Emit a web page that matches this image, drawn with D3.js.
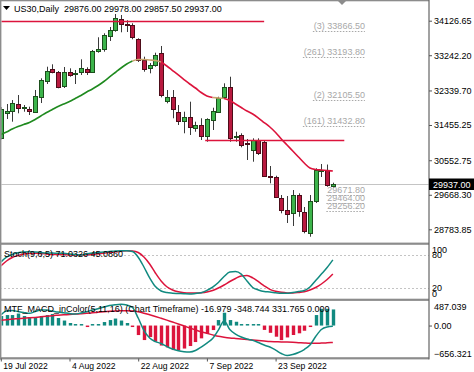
<!DOCTYPE html>
<html>
<head>
<meta charset="utf-8">
<script src="https://cdn.jsdelivr.net/npm/d3@7"></script>
<style>
  html, body { margin: 0; padding: 0; background: #fff; }
  svg { display: block; font-family: "Liberation Sans", Arial, sans-serif; }
</style>
</head>
<body>
<svg id="chart" width="474" height="372"></svg>
<script>
// ---- data ----
const dates = [
  "2022-07-19","2022-07-20","2022-07-21","2022-07-22","2022-07-25","2022-07-26","2022-07-27","2022-07-28","2022-07-29",
  "2022-08-01","2022-08-02","2022-08-03","2022-08-04","2022-08-05","2022-08-08","2022-08-09","2022-08-10","2022-08-11",
  "2022-08-12","2022-08-15","2022-08-16","2022-08-17","2022-08-18","2022-08-19","2022-08-22","2022-08-23","2022-08-24",
  "2022-08-25","2022-08-26","2022-08-29","2022-08-30","2022-08-31","2022-09-01","2022-09-02","2022-09-05","2022-09-06",
  "2022-09-07","2022-09-08","2022-09-09","2022-09-12","2022-09-13","2022-09-14","2022-09-15","2022-09-16","2022-09-19",
  "2022-09-20","2022-09-21","2022-09-22","2022-09-23","2022-09-26","2022-09-27","2022-09-28","2022-09-29","2022-09-30",
  "2022-10-03","2022-10-04","2022-10-05","2022-10-06","2022-10-07"
]
const open  = [31122,31762,31814,31993,31903,31865,31796,32180,32590,32882,32813,32454,32820,32774,32805,32882,32813,33333,33394,33735,
               33871,34163,34034,34017,33650,33120,32907,32992,33292,32052,32164,31796,31557,31652,31370,31455,31165,31583,31796,32180,
               32436,31165,31199,30994,30815,31071,31027,30141,30131,29577,29290,29193,29662,29234,28714,29496,30290,30302,29876]
const high  = [31916,31993,32095,32223,31967,31924,32352,32651,32948,33010,32838,32941,32907,32864,33138,32933,33377,33702,33804,33965,
               34298,34273,34137,34060,33676,33205,33043,33307,33479,32351,32351,31967,31796,32052,31540,31627,31627,31898,32180,32523,
               32692,31283,31242,31097,31114,31114,31071,30405,30156,29662,29636,29790,29706,29355,29662,30346,30456,30443,29978]
const low   = [31084,31609,31540,31755,31796,31711,31788,32018,32505,32779,32395,32403,32692,32505,32736,32736,32795,33307,33333,33607,
               33845,33830,33837,33650,33069,32820,32779,32948,32164,32011,31627,31455,31243,31199,31283,31071,31027,31327,31762,32164,
               31027,31027,30884,30559,30515,30687,30123,29962,29585,29193,28945,28868,29106,28681,28594,29457,30123,29874,29857.5]
const close = [31865,31813,32026,31883,31916,31814,32198,32608,32846,32813,32436,32813,32754,32787,32907,32795,33351,33394,33760,33888,
               34188,34042,34024,33717,33120,32882,32992,33249,32223,32164,31857,31557,31668,31396,31455,31173,31601,31821,32154,32436,
               31140,31181,30942,30956,31071,30745,30149,30123,29611,29265,29188,29662,29265,28753,29521,30302,30310,29918,29937]

// colour-changing moving average and its trend state per segment (u = up, f = flat, d = down)
const maValues = [31212,31276,31352,31417,31468,31519,31596,31686,31775,31852,31929,31993,32057,32134,32211,32300,32377,32467,32569,32685,
                  32800,32915,33018,33094,33133,33133,33120,33107,33069,32966,32851,32736,32620,32505,32403,32287,32198,32159,32147,32134,
                  32083,31993,31903,31814,31737,31634,31519,31404,31263,31096,30943,30789,30635,30481,30354,30315,30302,30290,30277]
const maTrend = "uuuuuuuuuuuuuuuuuuuuuuufffffdddddddddffddddddddddddddddddd".split("")

// horizontal lines drawn on the chart (price, first bar, last bar)
const hLinePrices = [34130, 31071]
const hLineFrom = [-1, 35.7]
const hLineTo = [46, 60]

// level labels
const levelTags = ["(3)", "(261)", "(2)", "(161)", "", "", ""]
const levelPrices = [33866.50, 33193.80, 32105.50, 31432.80, 29671.80, 29464.00, 29256.20]

const priceTicks = [34126.65, 33242.20, 32339.70, 31455.25, 30552.75, 29668.30, 28783.85]
const lastPrice = 29937.00

// Stochastic (9,6,5)
const stochMain = [67,76,81,84,85.5,86,85.5,84.6,83.7,83.7,83,83,82,81,80,82,83.7,84.6,85.5,86.4,
                   87.3,87.9,87.9,86.4,76,58,38,22,14,11,10,9.4,8.8,8.4,9.4,10.8,15,21,29.5,40.5,
                   48.8,49.7,45,32.3,20.4,15.8,13,12.1,10.8,9.7,9.7,11.2,13,14.9,21.3,33.2,45,57,71.0326]
const stochSignal = [59.8,69,75.4,79,81.8,82.7,83,82.7,81.8,80.9,80.9,80.9,80,80,80,80.4,81.3,82.2,83.7,84.6,
                     85.9,86.8,87.7,87.3,84.6,76.3,63.5,47,32.3,21.8,15.8,12.5,10.8,10.3,10.3,10.8,12.1,14.9,19.4,25,
                     31.4,36.9,41.5,42.4,38,31,23.5,17,13.5,11.5,10.5,10.3,11.2,12.7,15.8,20.4,26.8,35,45.0860]
const stochLevels = [80, 20]
const stochTicks = [100, 80, 20, 0]

// MTF_MACD_inColor (5,11,16)
const macdLine = [216,299,309,288,268,251,288,319,319,299,278,264,247,237,258,284,319,346,381,412,
                  428,437,422,371,155,-100,-257,-330,-371,-433,-484,-521,-540,-546,-515,-443,-361,-268,-93,93,
                  -82,-175,-237,-278,-305,-350,-402,-443,-505,-577,-618,-597,-556,-494,-402,-227,-82,-31,-16.979]
const macdSignal = [110,121,133,141,150,158,168,180,193,204,212,220,228,236,244,252,262,273,284,293,
                    300,305,306,301,283,255,222,187,150,112,72,33,-8,-50,-90,-128,-160,-192,-222,-240,
                    -255,-266,-276,-287,-297,-308,-318,-328,-333,-337,-341,-346,-353,-360,-366,-367,-362,-356,-348.744]
const macdHist = [196,216,216,247,196,175,175,196,216,237,155,103,52,31,21,-30,21,31,72,113,
                  144,103,52,-25,-196,-299,-237,-334,-412,-449,-505,-515,-474,-422,-340,-264,-175,-93,113,264,
                  113,78,10,8,6,8,-90,-150,-230,-300,-245,-195,-160,-107,-15,216,345,345,331.765]
const macdTicks = [487.039, 0, -656.321]

const dateTicks = [0, 12, 24, 36, 48]

// ---- layout ----
const axisX = 429
const mainTop = 1, mainBottom = 242.5
const stochTop = 245, stochBottom = 298.5
const macdTop = 301, macdBottom = 357
const fontSize = 9

const colors = {
  up: "#3cb44b", upStroke: "#1c4f1c",
  down: "#b8193f", downStroke: "#4d0c19",
  wick: "#3a3a3a",
  maUp: "#1f8a1f", maFlat: "#c9a46c", maDown: "#dc143c",
  teal: "#118a80", crimson: "#dc143c",
  grid: "#c4c4c4", border: "#8c8c8c", level: "#a8a8a8"
}

const svg = d3.select("#chart")
const parseDate = d3.timeParse("%Y-%m-%d")
const fmtDate = d3.timeFormat("%-d %b %Y")

const xScale = d3.scaleLinear().domain([0, 58]).range([0.8, 332.85])
const yPrice = d3.scaleLinear().domain([28783.85, 34126.65]).range([229.3, 20.7])
const yStoch = d3.scaleLinear().domain([0, 100]).range([298.6, 244.1])
const yMacd = d3.scaleLinear().domain([-656.321, 487.039]).range([357.4, 301.9])

svg.append("rect").attr("width", 474).attr("height", 372).attr("fill", "#fff")

const defs = svg.append("defs")
function clip(id, y0, y1) {
  defs.append("clipPath").attr("id", id)
    .append("rect").attr("x", 1.5).attr("y", y0).attr("width", axisX - 1.5).attr("height", y1 - y0)
  return svg.append("g").attr("clip-path", `url(#${id})`)
}
const mainG = clip("clipMain", mainTop, mainBottom)
const stochG = clip("clipStoch", stochTop, stochBottom)
const macdG = clip("clipMacd", macdTop, macdBottom)

const bars = d3.range(open.length)
const px = i => Math.round(xScale(i))

drawMain()
drawStoch()
drawMacd()
drawFrame()
drawAxes()
drawTexts()

function drawMain() {
  // bid line
  mainG.append("line")
    .attr("x1", 0).attr("x2", axisX)
    .attr("y1", Math.round(yPrice(lastPrice)) + 0.5).attr("y2", Math.round(yPrice(lastPrice)) + 0.5)
    .attr("stroke", colors.grid).attr("stroke-width", 1)

  // level labels with dotted underline
  const anchorX = xScale(63.6)
  levelPrices.forEach((p, k) => {
    const y = yPrice(p)
    const t = mainG.append("text")
      .attr("x", anchorX).attr("y", y - 1.8)
      .attr("text-anchor", "end")
      .attr("font-size", fontSize).attr("fill", colors.level)
      .text((levelTags[k] ? levelTags[k] + " " : "") + p.toFixed(2))
    const w = t.node().getComputedTextLength()
    mainG.append("line")
      .attr("x1", anchorX - w - 1).attr("x2", anchorX)
      .attr("y1", Math.round(y) + 0.5).attr("y2", Math.round(y) + 0.5)
      .attr("stroke", colors.level).attr("stroke-width", 1)
      .attr("stroke-dasharray", "1.5,1.5")
  })

  // candles
  const isUp = i => close[i] >= open[i]
  mainG.append("g").selectAll("line").data(bars).join("line")
    .attr("x1", i => px(i) + 0.5).attr("x2", i => px(i) + 0.5)
    .attr("y1", i => yPrice(high[i])).attr("y2", i => yPrice(low[i]))
    .attr("stroke", colors.wick).attr("stroke-width", 1)

  mainG.append("g").selectAll("rect").data(bars).join("rect")
    .attr("x", i => px(i) - 1.5)
    .attr("width", 4)
    .attr("y", i => Math.round(yPrice(Math.max(open[i], close[i]))) + 0.5)
    .attr("height", i => Math.max(1, Math.round(Math.abs(yPrice(open[i]) - yPrice(close[i])))))
    .attr("fill", i => isUp(i) ? colors.up : colors.down)
    .attr("stroke", i => isUp(i) ? colors.upStroke : colors.downStroke)
    .attr("stroke-width", 1)

  // moving average, split into runs of one trend colour
  const line = d3.line().x(i => xScale(i)).y(i => yPrice(maValues[i])).curve(d3.curveMonotoneX)
  let start = 0
  for (let s = 1; s <= maTrend.length; s++) {
    if (s === maTrend.length || maTrend[s] !== maTrend[start]) {
      const trend = maTrend[start]
      mainG.append("path")
        .attr("d", line(d3.range(start, s + 1)))
        .attr("fill", "none")
        .attr("stroke", trend === "u" ? colors.maUp : trend === "f" ? colors.maFlat : colors.maDown)
        .attr("stroke-width", 1.6)
      start = s
    }
  }

  // horizontal lines
  hLinePrices.forEach((p, k) => {
    mainG.append("line")
      .attr("x1", xScale(hLineFrom[k])).attr("x2", xScale(hLineTo[k]))
      .attr("y1", Math.round(yPrice(p)) + 0.5).attr("y2", Math.round(yPrice(p)) + 0.5)
      .attr("stroke", colors.crimson).attr("stroke-width", 1.4)
  })
}

function drawStoch() {
  stochLevels.forEach(v => {
    stochG.append("line")
      .attr("x1", 0).attr("x2", axisX)
      .attr("y1", Math.round(yStoch(v)) + 0.5).attr("y2", Math.round(yStoch(v)) + 0.5)
      .attr("stroke", colors.grid).attr("stroke-dasharray", "2,2")
  })
  const line = series => d3.line().x(i => xScale(i)).y(i => yStoch(series[i])).curve(d3.curveMonotoneX)(bars)
  stochG.append("path").attr("d", line(stochSignal))
    .attr("fill", "none").attr("stroke", colors.crimson).attr("stroke-width", 1.5)
  stochG.append("path").attr("d", line(stochMain))
    .attr("fill", "none").attr("stroke", colors.teal).attr("stroke-width", 1.5)
}

function drawMacd() {
  const zero = yMacd(0)
  macdG.append("g").selectAll("rect").data(bars).join("rect")
    .attr("x", i => px(i) - 1.2)
    .attr("width", 3.4)
    .attr("y", i => macdHist[i] >= 0 ? Math.min(zero - 1.5, yMacd(macdHist[i])) : zero)
    .attr("height", i => Math.max(1.5, Math.abs(yMacd(macdHist[i]) - zero)))
    .attr("fill", i => macdHist[i] >= 0 ? colors.teal : colors.crimson)

  const line = series => d3.line().x(i => xScale(i)).y(i => yMacd(series[i])).curve(d3.curveMonotoneX)(bars)
  macdG.append("path").attr("d", line(macdSignal))
    .attr("fill", "none").attr("stroke", colors.crimson).attr("stroke-width", 1.5)
  macdG.append("path").attr("d", line(macdLine))
    .attr("fill", "none").attr("stroke", colors.teal).attr("stroke-width", 1.5)
}

function drawFrame() {
  const f = svg.append("g").attr("fill", colors.border)
  f.append("rect").attr("x", 0).attr("y", 0).attr("width", axisX).attr("height", 1.3)
  f.append("rect").attr("x", 0).attr("y", 242.6).attr("width", axisX).attr("height", 2.2)
  f.append("rect").attr("x", 0).attr("y", 298.7).attr("width", axisX).attr("height", 2.2)
  f.append("rect").attr("x", 0).attr("y", 357.2).attr("width", axisX).attr("height", 2.2)
  f.append("rect").attr("x", 0).attr("y", 0).attr("width", 1.4).attr("height", 359.4)
  svg.append("rect").attr("x", axisX - 0.6).attr("y", 0).attr("width", 1.2).attr("height", 359.4).attr("fill", "#666")
  // chart shift marker
  svg.append("path").attr("d", "M338,1 L346,1 L342,5 Z").attr("fill", "#8c8c8c")
}

function styleAxis(g) {
  g.select(".domain").remove()
  g.selectAll(".tick line").attr("stroke", "#555")
  g.selectAll(".tick text").attr("font-size", fontSize).attr("fill", "#000")
    .attr("font-family", '"Liberation Sans", Arial, sans-serif')
}

function drawAxes() {
  svg.append("g").attr("transform", `translate(${axisX},0)`)
    .call(d3.axisRight(yPrice).tickValues(priceTicks).tickFormat(d3.format(".2f")).tickSize(3).tickPadding(2))
    .call(styleAxis)

  // last price box
  const yl = yPrice(lastPrice)
  svg.append("rect").attr("x", axisX).attr("y", Math.round(yl) - 5.5).attr("width", 474 - axisX).attr("height", 11.5)
    .attr("fill", "#000")
  svg.append("text").attr("x", axisX + 4).attr("y", yl + 3.3)
    .attr("font-size", fontSize).attr("fill", "#fff").text(lastPrice.toFixed(2))

  const stochAxis = svg.append("g").attr("transform", `translate(${axisX},0)`)
    .call(d3.axisRight(yStoch).tickValues(stochTicks).tickSize(0).tickPadding(3))
    .call(styleAxis)
  stochAxis.selectAll(".tick text").attr("dy", d => d === 100 ? "0.95em" : d === 0 ? "-0.25em" : "0.32em")

  const macdAxis = svg.append("g").attr("transform", `translate(${axisX},0)`)
    .call(d3.axisRight(yMacd).tickValues(macdTicks)
      .tickFormat(v => v === 0 ? "0.00" : d3.format(".3f")(v)).tickSize(3).tickPadding(2))
    .call(styleAxis)
  macdAxis.selectAll(".tick text").attr("dy", d => d > 0 ? "0.85em" : d < 0 ? "-0.1em" : "0.32em")
  macdAxis.selectAll(".tick line").filter(d => d !== 0).remove()

  svg.append("g").attr("transform", `translate(0,${macdBottom + 1.5})`)
    .call(d3.axisBottom(xScale).tickValues(dateTicks)
      .tickFormat(i => fmtDate(parseDate(dates[i]))).tickSize(3).tickPadding(1))
    .call(styleAxis)
    .call(g => g.selectAll(".tick text").attr("text-anchor", "start").attr("dx", 2).attr("font-size", 8.6))
}

function drawTexts() {
  svg.append("path").attr("d", "M3,6 L10,6 L6.5,10 Z").attr("fill", "#000")
  svg.append("text").attr("x", 14).attr("y", 12).attr("font-size", fontSize).attr("fill", "#000")
    .attr("xml:space", "preserve")
    .text(`US30,Daily  ${open[58].toFixed(2)} ${high[58].toFixed(2)} ${low[58].toFixed(2)} ${close[58].toFixed(2)}`)
  svg.append("text").attr("x", 4).attr("y", 256.5).attr("font-size", fontSize).attr("fill", "#000")
    .text(`Stoch(9,6,5) ${stochMain[58].toFixed(4)} ${stochSignal[58].toFixed(4)}`)
  svg.append("text").attr("x", 4).attr("y", 311.5).attr("font-size", fontSize).attr("fill", "#000")
    .text(`MTF_MACD_inColor(5,11,16) (Chart Timeframe) ${macdLine[58].toFixed(3)} ${macdSignal[58].toFixed(3)} ${macdHist[58].toFixed(3)} 0.000`)
}
</script>
</body>
</html>
